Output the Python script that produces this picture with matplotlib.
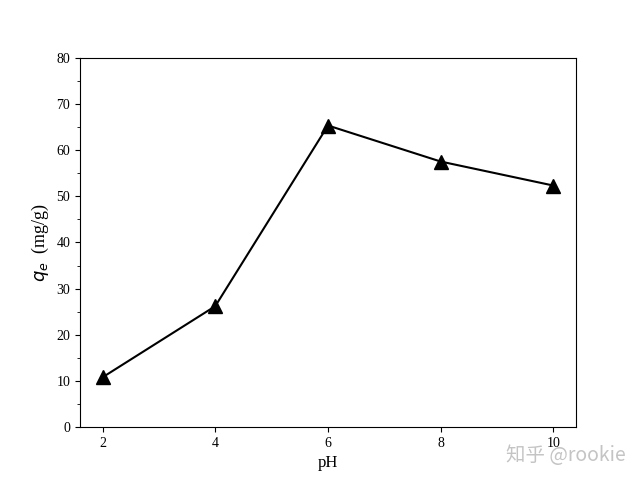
import matplotlib
matplotlib.use('Agg')
import matplotlib.pyplot as plt
from matplotlib.ticker import MultipleLocator

plt.rcParams['font.family'] = ['Liberation Serif', 'DejaVu Sans']
plt.rcParams['mathtext.fontset'] = 'dejavusans'

ph = [2, 4, 6, 8, 10]
qe = [10.8, 26.2, 65.3, 57.5, 52.3]

fig, ax = plt.subplots(figsize=(6.4, 4.8), dpi=100)
ax.plot(ph, qe, color='black', marker='^', markersize=10, linewidth=1.5)
ax.set_ylim(0, 80)
ax.set_xticks(ph)
ax.yaxis.set_minor_locator(MultipleLocator(5))
ax.set_xlabel('pH', fontsize=12)
ax.set_ylabel(r'$q_e$  (mg/g) ', fontsize=13)
fig.text(0.79, 0.04, '知乎 @rookie', fontsize=14, color='#c4c4c4',
         family=['Noto Sans CJK SC', 'DejaVu Sans'])
fig.savefig('out.png', dpi=100)
